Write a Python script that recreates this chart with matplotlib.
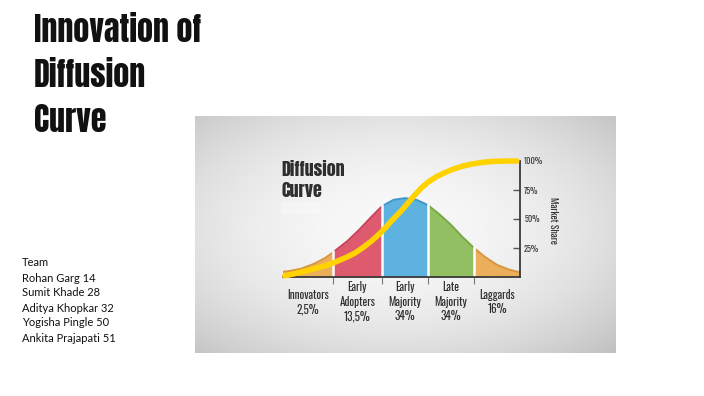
import numpy as np
import matplotlib
matplotlib.use("Agg")
import matplotlib.pyplot as plt
from matplotlib.patches import Rectangle
from matplotlib.transforms import blended_transform_factory

# ---------------- data ----------------
categories = ["Innovators", "Early\nAdopters", "Early\nMajority", "Late\nMajority", "Laggards"]
shares = ["2,5%", "13,5%", "34%", "34%", "16%"]
edges = [-3.15, -2.07, -1.0, 0.0, 1.0, 2.0]          # category boundaries (std-dev units)

bell_x = [-3.15, -3.0, -2.75, -2.5, -2.25, -2.07, -1.75, -1.5, -1.25, -1.0, -0.75,
          -0.5, -0.25, 0.0, 0.25, 0.5, 0.75, 1.0, 1.25, 1.5, 1.75, 2.0]
bell_y = [4.5, 5.2, 7.3, 11.0, 16.0, 21.0, 31.0, 40.5, 51.0, 61.0, 66.5,
          68.0, 66.5, 62.0, 54.0, 45.0, 34.5, 25.0, 17.0, 10.5, 6.5, 4.0]

s_x = [-3.11, -2.78, -2.49, -2.27, -2.06, -1.77, -1.58, -1.41, -1.22, -1.04, -0.91,
       -0.79, -0.68, -0.57, -0.43, -0.28, -0.14, 0.01, 0.19, 0.37, 0.55, 0.73,
       0.91, 1.09, 1.27, 1.46, 1.70, 1.93]
s_y = [1.0, 3.9, 6.9, 9.3, 12.1, 17.0, 20.8, 25.4, 31.2, 37.7, 43.0,
       48.5, 53.0, 57.5, 64.0, 71.0, 77.0, 82.0, 86.6, 90.0, 93.0, 95.3,
       97.0, 98.3, 99.2, 99.7, 100.0, 100.0]

share_ticks = [25, 50, 75, 100]
share_tick_labels = ["25%", "50%", "75%", "100%"]

title_lines = ["Innovation of", "Diffusion", "Curve"]
team = ["Team", "Rohan Garg 14", "Sumit Khade 28", "Aditya Khopkar 32",
        "Yogisha Pingle 50", "Ankita Prajapati 51"]

fills = ["#EBAF5C", "#DE5A6E", "#5DB2DF", "#92BF62", "#EBAF5C"]
edges_col = ["#D9963E", "#C8405A", "#3E97CB", "#78A846", "#D9963E"]

TITLE = ["Anton", "Oswald", "DejaVu Sans"]
COND = ["Oswald", "Barlow Condensed", "DejaVu Sans"]
HUMAN = ["Lato", "DejaVu Sans"]

W, H = 704, 396
fig = plt.figure(figsize=(W / 100, H / 100), dpi=100)
fig.patch.set_facecolor("white")

def rect(x0, y0, x1, y1):
    return [x0 / W, 1 - y1 / H, (x1 - x0) / W, (y1 - y0) / H]

# ---------------- panel background (radial gradient) ----------------
axbg = fig.add_axes(rect(195, 116, 616, 353))
gx, gy = np.meshgrid(np.linspace(-1, 1, 300), np.linspace(-1, 1, 200))
r = np.sqrt((gx + 0.05) ** 2 + (gy + 0.05) ** 2)
val = 0.975 - 0.10 * np.clip(r, 0, 1.5) ** 2
axbg.imshow(np.dstack([val, val, val]), extent=[0, 1, 0, 1], aspect="auto", interpolation="bilinear")
axbg.set_xlim(0, 1)
axbg.set_ylim(0, 1)
axbg.set_axis_off()
# faint placeholder bar under the inner heading
axbg.add_patch(Rectangle(((281 - 195) / 421, 1 - (214 - 116) / 237), 38 / 421, 12 / 237,
                         color="white", alpha=0.3, lw=0))

# ---------------- chart ----------------
ax = fig.add_axes(rect(283, 161, 520, 277))
ax.patch.set_visible(False)
ax.set_xlim(edges[0], edges[-1])
ax.set_ylim(0, 100)

bx = np.array(bell_x)
by = np.array(bell_y)
for i in range(len(categories)):
    m = (bx >= edges[i] - 1e-9) & (bx <= edges[i + 1] + 1e-9)
    ax.fill_between(bx[m], 0, by[m], color=fills[i], lw=0, zorder=2)
    ax.plot(bx[m], by[m], color=edges_col[i], lw=1.4, zorder=3, solid_capstyle="butt")
bh = np.interp(edges[1:-1], bell_x, bell_y)
ax.vlines(edges[1:-1], 0, bh + 2, color="white", lw=1.8, zorder=4)

ax.plot(s_x, s_y, color="#FFD200", lw=4.0, solid_capstyle="round", solid_joinstyle="round",
        zorder=6, clip_on=False)

for s in ["left", "top"]:
    ax.spines[s].set_visible(False)
for s in ["bottom", "right"]:
    ax.spines[s].set_color("#3a3a3a")
    ax.spines[s].set_linewidth(1.3)
    ax.spines[s].set_zorder(5)

ax.set_yticks(share_ticks)
ax.set_yticklabels(share_tick_labels)
ax.yaxis.tick_right()
ax.tick_params(axis="y", direction="in", length=5, width=1.0, color="#555555", pad=3,
               labelsize=6, labelcolor="#333333")
for t in ax.get_yticklabels():
    t.set_family(COND)
    t.set_fontweight("semibold")
ax.set_xticks(edges[1:-1])
ax.set_xticklabels([])
ax.tick_params(axis="x", direction="out", length=5, width=0.8, color="#777777")

tr = blended_transform_factory(ax.transData, ax.transAxes)
for i, (c, s) in enumerate(zip(categories, shares)):
    cx = (edges[i] + edges[i + 1]) / 2
    ax.text(cx, -0.215, c + "\n" + s, transform=tr, ha="center", va="center",
            fontsize=8, linespacing=1.25, color="#2e2e2e", family=COND, fontweight="medium")

fig.text(553 / W, 1 - 220 / H, "Market Share", rotation=-90, ha="center", va="center",
         fontsize=7, fontweight="bold", color="#333333", family=COND)

fig.text(281 / W, 1 - 176 / H, "Diffusion", ha="left", va="baseline",
         fontsize=13, color="#2e2e2e", family=TITLE)
fig.text(281 / W, 1 - 197 / H, "Curve", ha="left", va="baseline",
         fontsize=13, color="#2e2e2e", family=TITLE)

# ---------------- slide title & team ----------------
for i, line in enumerate(title_lines):
    fig.text(34 / W, 1 - (42 + 45 * i) / H, line, ha="left", va="baseline",
             fontsize=23, color="#111111", family=TITLE)

for i, line in enumerate(team):
    fig.text(22 / W, 1 - (263 + 15 * i) / H, line, ha="left", va="center",
             fontsize=8, color="#111111", family=HUMAN)

fig.savefig("out.png", dpi=100)
